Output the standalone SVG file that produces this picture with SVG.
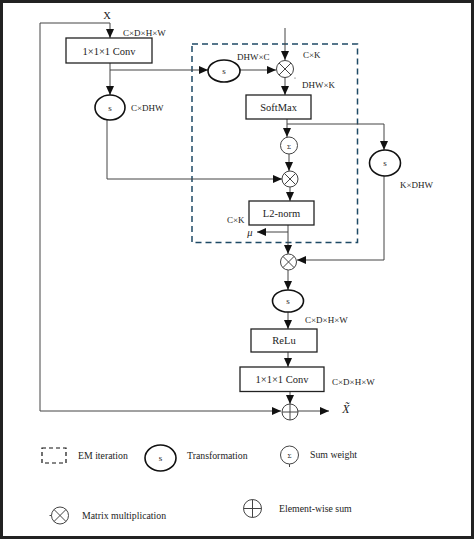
<svg xmlns="http://www.w3.org/2000/svg" width="474" height="539" viewBox="0 0 474 539">
<style>
.bx{fill:#fff;stroke:#222;stroke-width:1.3}
.el{fill:#fff;stroke:#111;stroke-width:1.6}
.op{fill:#fff;stroke:#444;stroke-width:1}
.ln{fill:none;stroke:#444;stroke-width:1}
.t{font-family:"Liberation Serif",serif;fill:#222}
.tb{font-size:10.5px;text-anchor:middle}
.ts{font-size:9px}
.tl{font-size:9.8px}
</style>
<defs>
<marker id="ar" markerUnits="userSpaceOnUse" markerWidth="9" markerHeight="8" viewBox="0 0 9 8" refX="9" refY="4" orient="auto">
<path d="M0,0 L9,4 L0,8 Z" fill="#111"/>
</marker>
</defs>
<rect x="1.5" y="1.5" width="471" height="536" fill="#fff" stroke="#222" stroke-width="3"/>

<g id="em-box"><rect x="192" y="44" width="165.5" height="198.5" fill="none" stroke="#1f4a66" stroke-width="1.5" stroke-dasharray="6,4"/></g>

<g id="connectors" class="ln" marker-end="url(#ar)">
<path d="M110,23 V38"/>
<path d="M110,23 H40 V411 H281"/>
<path d="M110,63 V95"/>
<path d="M110,70 H208"/>
<path d="M240,70 H276"/>
<path d="M285,28 V60"/>
<path d="M285,77 V95"/>
<path d="M287,119 V137"/>
<path d="M287,124 H384 V150"/>
<path d="M289,154 V171"/>
<path d="M107,120 V179 H282"/>
<path d="M290,187 V201"/>
<path d="M288,225 V254"/>
<path d="M288,232 H257"/>
<path d="M384,176 V260 H297"/>
<path d="M288,270 V290"/>
<path d="M288,312 V329"/>
<path d="M288,352 V367"/>
<path d="M290,391 V404"/>
<path d="M298,411 H329"/>
</g>

<g id="x-label"><text class="t" x="107" y="19" font-size="10.5px" text-anchor="middle">X</text></g>

<g id="conv1"><rect class="bx" x="66" y="38" width="86" height="25"/><text class="t tb" x="109" y="54.5">1×1×1 Conv</text></g>
<text class="t ts" x="123" y="36">C×D×H×W</text>

<g id="s1"><ellipse class="el" cx="110" cy="107.5" rx="15" ry="12.5"/><text class="t ts" x="110" y="110.5" text-anchor="middle">s</text></g>
<text class="t ts" x="131" y="111">C×DHW</text>

<g id="s2"><ellipse class="el" cx="224" cy="71" rx="16" ry="11"/><text class="t ts" x="224" y="74" text-anchor="middle">s</text></g>
<text class="t ts" x="237" y="60">DHW×C</text>

<g id="mult1"><circle class="op" cx="285" cy="69" r="8.5"/><path class="ln" d="M279,63 L291,75 M291,63 L279,75"/><circle cx="295" cy="78" r="0.6" fill="#444"/></g>
<text class="t ts" x="303" y="58">C×K</text>
<text class="t ts" x="302" y="88">DHW×K</text>

<g id="softmax"><rect class="bx" x="246" y="95" width="65" height="24"/><text class="t tb" x="278.5" y="110.5">SoftMax</text></g>

<g id="sum"><circle class="op" cx="289" cy="145.5" r="8.5"/><text class="t" x="289" y="148.5" font-size="7px" text-anchor="middle">Σ</text></g>

<g id="s4"><ellipse class="el" cx="385" cy="163" rx="15.5" ry="13"/><text class="t ts" x="385" y="166" text-anchor="middle">s</text></g>
<text class="t ts" x="400" y="188">K×DHW</text>

<g id="mult2"><circle class="op" cx="290" cy="179" r="8"/><path class="ln" d="M284.3,173.3 L295.7,184.7 M295.7,173.3 L284.3,184.7"/></g>

<g id="l2norm"><rect class="bx" x="249" y="201" width="65" height="24"/><text class="t tb" x="281.5" y="216.5">L2-norm</text></g>
<text class="t ts" x="227" y="223">C×K</text>
<text class="t" x="250" y="236" font-size="10.5px" font-style="italic" text-anchor="middle">μ</text>

<g id="mult3"><circle class="op" cx="288.5" cy="262" r="8"/><path class="ln" d="M282.8,256.3 L294.2,267.7 M294.2,256.3 L282.8,267.7"/></g>

<g id="s3"><ellipse class="el" cx="288" cy="301" rx="15.5" ry="11"/><text class="t ts" x="288" y="304" text-anchor="middle">s</text></g>
<text class="t ts" x="305" y="323">C×D×H×W</text>

<g id="relu"><rect class="bx" x="251" y="329" width="66" height="23"/><text class="t tb" x="284" y="344">ReLu</text></g>

<g id="conv2"><rect class="bx" x="240" y="367" width="84" height="24.5"/><text class="t tb" x="282" y="383">1×1×1 Conv</text></g>
<text class="t ts" x="332" y="385">C×D×H×W</text>

<g id="plus"><circle class="op" cx="290" cy="412" r="8"/><path class="ln" d="M282,412 H298 M290,404 V420"/></g>

<g id="xtilde"><text class="t" x="346" y="413" font-size="12px" font-style="italic" text-anchor="middle">X̃</text></g>

<g id="legend">
<rect x="42" y="448" width="24" height="15" fill="none" stroke="#111" stroke-width="1.2" stroke-dasharray="4,3"/>
<text class="t tl" x="78" y="459">EM iteration</text>
<ellipse class="el" cx="160.5" cy="458" rx="15.5" ry="13"/><text class="t ts" x="160.5" y="461" text-anchor="middle">s</text>
<text class="t tl" x="187" y="459">Transformation</text>
<circle class="op" cx="289.5" cy="455" r="9"/><text class="t" x="289.5" y="458" font-size="7px" text-anchor="middle">Σ</text><path class="ln" d="M289.5,464 V467"/>
<text class="t tl" x="310" y="458">Sum weight</text>
<circle class="op" cx="60" cy="515.5" r="8.5"/><path class="ln" d="M54,509.5 L66,521.5 M66,509.5 L54,521.5 M51.5,515.5 H49.5"/>
<text class="t tl" x="82" y="519">Matrix multiplication</text>
<circle class="op" cx="252.5" cy="508.5" r="9"/><path class="ln" d="M243.5,508.5 H261.5 M252.5,499.5 V517.5"/>
<text class="t tl" x="279" y="512">Element-wise sum</text>
</g>
</svg>
